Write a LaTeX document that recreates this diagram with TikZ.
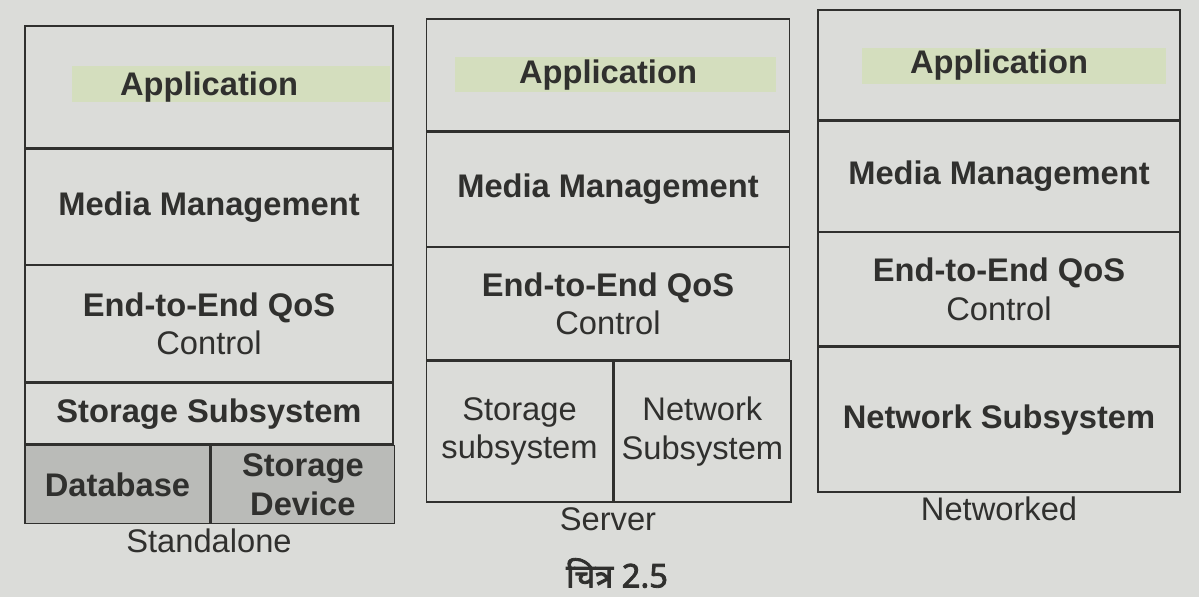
\documentclass[tikz,border=0pt]{standalone}
\usepackage{fontspec}
\setmainfont{Liberation Sans}
\newfontfamily\devfont[Script=Devanagari, FakeBold=2.5]{Noto Sans}
\usetikzlibrary{positioning}
\definecolor{paper}{RGB}{219,220,217}
\definecolor{ink}{RGB}{48,48,46}
\definecolor{shade}{RGB}{186,187,184}
\definecolor{marker}{RGB}{200,228,140}
\tikzset{layer/.style={draw=ink, line width=0.8pt, inner sep=0pt, align=center,
    text=ink, font=\fontsize{18.6}{22}\selectfont\bfseries},
  plain/.style={layer, font=\fontsize{18.6}{22}\selectfont},
  caption/.style={text=ink, font=\fontsize{18.6}{22}\selectfont}}

\begin{document}
\begin{tikzpicture}[x=0.02cm, y=-0.02cm]
		\fill[paper] (0,0) rectangle (1199,597);
		\useasboundingbox (0,0) rectangle (1199,597);
		% highlighter marks
		\fill[marker, opacity=0.35] (72,66) rectangle (390,102);
		\fill[marker, opacity=0.35] (455,57) rectangle (776,92);
		\fill[marker, opacity=0.35] (862,48) rectangle (1166,84);
		% standalone
		\node[layer, minimum width=7.36cm, minimum height=2.44cm] (sapp) at (209,87) {Application};
		\node[layer, minimum width=7.36cm, minimum height=2.3cm, below=0pt of sapp] (smedia) {Media Management};
		\node[layer, minimum width=7.36cm, minimum height=2.32cm, below=0pt of smedia] (sqos) {End-to-End QoS\\\mdseries Control};
		\node[layer, minimum width=7.36cm, minimum height=1.22cm, below=0pt of sqos] (sstore) {Storage Subsystem};
		\node[layer, fill=shade, minimum width=3.7cm, minimum height=1.56cm, below=0pt of sstore.south west, anchor=north west] (sdb) {Database};
		\node[layer, fill=shade, minimum width=3.66cm, minimum height=1.56cm, right=0pt of sdb] (sdev) {Storage\\Device};
		\node[caption, below=-1pt of sstore.south |- sdb.south] (slabel) {Standalone};
		% server
		\node[layer, minimum width=7.26cm, minimum height=2.24cm] (vapp) at (608,75) {Application};
		\node[layer, minimum width=7.26cm, minimum height=2.28cm, below=0pt of vapp] (vmedia) {Media Management};
		\node[layer, minimum width=7.26cm, minimum height=2.24cm, below=0pt of vmedia] (vqos) {End-to-End QoS\\\mdseries Control};
		\node[plain, minimum width=3.72cm, minimum height=2.82cm, below=0pt of vqos.south west, anchor=north west] (vstore) {Storage\\subsystem};
		\node[plain, minimum width=3.54cm, minimum height=2.82cm, right=0pt of vstore] (vnet) {Network\\Subsystem};
		\node[caption, below=-1pt of vqos.south |- vstore.south] (vlabel) {Server};
		% networked
		\node[layer, minimum width=7.24cm, minimum height=2.2cm] (napp) at (999,65) {Application};
		\node[layer, minimum width=7.24cm, minimum height=2.2cm, below=0pt of napp] (nmedia) {Media Management};
		\node[layer, minimum width=7.24cm, minimum height=2.26cm, below=0pt of nmedia] (nqos) {End-to-End QoS\\\mdseries Control};
		\node[layer, minimum width=7.24cm, minimum height=2.9cm, below=0pt of nqos] (nnet) {Network Subsystem};
		\node[caption, below=-1pt of nnet] (nlabel) {Networked};
		% figure number
		\node[text=ink, font=\fontsize{18.6}{22}\selectfont\devfont] (fig) at (617,573) {चित्र 2.5};
		\end{tikzpicture}
\end{document}
